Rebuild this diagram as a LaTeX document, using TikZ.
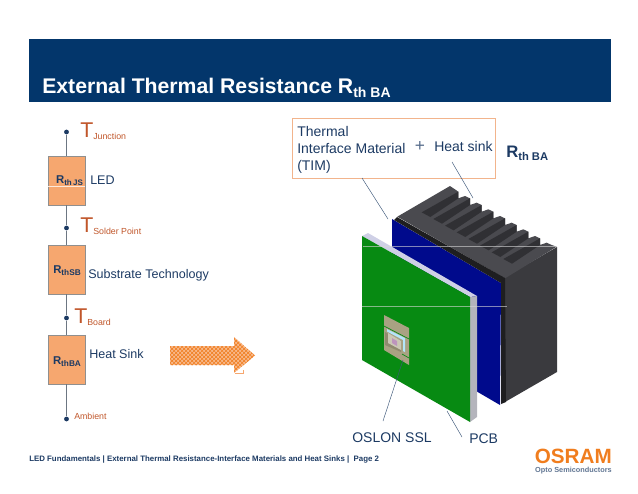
\documentclass[tikz,border=0pt]{standalone}
\usepackage{fontspec}
\setmainfont{Liberation Sans}
\usetikzlibrary{patterns}
\definecolor{bandblue}{HTML}{03366B}
\definecolor{labelblue}{HTML}{1C3A63}
\definecolor{rustred}{HTML}{C0562A}
\definecolor{boxorange}{HTML}{F6A76F}
\definecolor{boxedge}{HTML}{8F8F8F}
\definecolor{timedge}{HTML}{F2B48C}
\definecolor{osramorange}{HTML}{F07D1E}
\definecolor{sinktop}{HTML}{4A4A4F}
\definecolor{sinkdark}{HTML}{303034}
\definecolor{sinkside}{HTML}{3A3A3E}
\definecolor{sinkstrip}{HTML}{1E1E20}
\definecolor{timblue}{HTML}{000A8C}
\definecolor{pcbgreen}{HTML}{078A12}
\definecolor{pcblight}{HTML}{CFD0E6}
\definecolor{pcbgray}{HTML}{B4B4BC}
\definecolor{chiptan}{HTML}{A9A283}
\tikzset{
  rbox/.style={draw=boxedge, fill=boxorange, minimum width=27.75pt, minimum height=36.75pt, inner sep=0pt},
  rlabel/.style={font=\bfseries\fontsize{8.5}{10}\selectfont, text=labelblue, inner sep=0pt},
  dot/.style={circle, fill=labelblue, minimum size=3.6pt, inner sep=0pt},
  tlabel/.style={text=rustred, anchor=base west, inner sep=0pt},
  blab/.style={text=labelblue, anchor=base west, inner sep=0pt, font=\fontsize{9.4}{11}\selectfont},
  timlab/.style={blab, font=\fontsize{10.5}{12}\selectfont},
  pointer/.style={draw=labelblue!85, line width=0.35pt},
  scanline/.style={draw=white!70!gray, line width=0.3pt, opacity=0.6}
}
\newcommand{\tsub}[1]{\fontsize{16}{18}\selectfont T\fontsize{6.6}{8}\selectfont\raisebox{-2pt}{#1}}
\begin{document}
\begin{tikzpicture}[x=0.75pt, y=-0.75pt]
  \useasboundingbox (0,0) rectangle (638,493);

  % title band
  \fill[bandblue] (29,39) rectangle (611,102);
  \node (title) [anchor=base west, inner sep=0pt, text=white, font=\bfseries\fontsize{15.9}{18}\selectfont] at (42,93)
    {External Thermal Resistance R\raisebox{-3pt}{\fontsize{10.5}{12}\selectfont th BA}};

  % thermal chain
  \node (rjs) [rbox] at (66.5,180.5) {};
  \node (rsb) [rbox] at (66.5,269.5) {};
  \node (rba) [rbox] at (66.5,359.5) {};
  \node (tj) [dot] at (66.5,132) {};
  \node (tsp) [dot] at (66.5,228) {};
  \node (tb) [dot] at (66.5,318) {};
  \node (amb) [dot] at (66.5,419) {};
  \draw[boxedge!70!labelblue] (tj) -- (rjs);
  \draw[boxedge!70!labelblue] (rjs) -- (tsp) -- (rsb);
  \draw[boxedge!70!labelblue] (rsb) -- (tb) -- (rba);
  \draw[boxedge!70!labelblue] (rba) -- (amb);
  \draw[white!75!boxorange, line width=0.3pt] (rjs.west |- 0,186.5) -- (rjs.east |- 0,186.5);

  \node (rjslab) [rlabel] at (69.5,181) {R\raisebox{-1.5pt}{\fontsize{6}{7}\selectfont th\,JS}};
  \node (rsblab) [rlabel] at (67,271) {R\raisebox{-1.5pt}{\fontsize{6.2}{7}\selectfont thSB}};
  \node (rbalab) [rlabel] at (67,362) {R\raisebox{-1.5pt}{\fontsize{6.2}{7}\selectfont thBA}};

  \node (tjlab) [tlabel] at (80,137) {\tsub{Junction}};
  \node (tsplab) [tlabel] at (80,232) {\tsub{Solder Point}};
  \node (tblab) [tlabel] at (74,323) {\tsub{Board}};
  \node (amblab) [tlabel, font=\fontsize{6.6}{8}\selectfont] at (74,419) {Ambient};

  \node (led) [blab] at (90,184) {LED};
  \node (subst) [blab] at (88,278) {Substrate Technology};
  \node (sink) [blab] at (89,358) {Heat Sink};

  % big arrow
  \path[fill=boxorange!80!white] (170,346) -- (234,346) -- (234,337) -- (255,355.5) -- (234,373) -- (234,365) -- (170,365) -- cycle;
  \path[pattern=crosshatch, pattern color=osramorange] (170,346) -- (234,346) -- (234,337) -- (255,355.5) -- (234,373) -- (234,365) -- (170,365) -- cycle;
  \draw[boxorange, line width=0.7pt] (235,373.5) -- (243,373.5) -- (243,370);

  % heat sink
  \fill[sinkside] (505,277) -- (557,247) -- (557,372) -- (505,402) -- cycle;
  \begin{scope}[shift={(390,180)}, x=0.25pt, y=-0.25pt]
    \fill[sinktop] (22,110) -- (180,18) -- (205,35)
      \foreach \i in {0,...,7} { -- ++(0,20) -- ++(20,-7) -- ++(15,7) }
      -- (500,200) -- (345,295) -- cycle;
    \foreach \i in {0,...,7}
      \fill[sinkdark] ({95+\i*35},{97+\i*20}) -- ({205+\i*35},{35+\i*20}) -- ({205+\i*35},{55+\i*20}) -- ({121+\i*35},{111+\i*20}) -- cycle;
  \end{scope}

  % TIM plate
  \fill[timblue] (392,219) -- (501,283) -- (500,405) -- (392,342) -- cycle;
  \fill[sinkstrip] (397,217) -- (505,278) -- (506,402) -- (501,404) -- (501,283) -- (394,220) -- cycle;

  % PCB
  \fill[pcblight] (362,236) -- (368,233) -- (477,296) -- (470,297) -- cycle;
  \fill[pcbgray] (470,297) -- (477,296) -- (477,417) -- (470,422) -- cycle;
  \fill[pcbgreen] (362,236) -- (470,297) -- (470,422) -- (362,360) -- cycle;

  % LED package
  \fill[chiptan] (384,315) -- (409,328) -- (409,365) -- (384,350) -- cycle;
  \draw[pcbgreen, line width=0.5pt] (384,326) -- (409,339);
  \draw[pcbgreen, line width=0.5pt] (402,354) -- (409,358);
  \fill[black!15!chiptan] (385,332) -- (401,341) -- (401,352) -- (385,345) -- cycle;
  \fill[white!70!cyan] (387,329) -- (405,338) -- (405,352) -- (403,351) -- (403,340) -- (387,331.5) -- cycle;
  \fill[white!40!chiptan] (388,333) -- (401,341) -- (401,350) -- (388,343) -- cycle;
  \fill[violet!40!white!80!gray] (392,338) -- (397,341) -- (397,346) -- (392,343) -- cycle;

  % stray scan lines of the slide
  \draw[scanline] (363,246) -- (557,246);
  \draw[scanline] (362,306) -- (507,306);

  % callout
  \node (timbox) [draw=timedge, minimum width=152.25pt, minimum height=45pt, inner sep=0pt] at (393.5,148) {};
  \node (thermal) [timlab] at (297,136) {Thermal};
  \node (iface) [timlab] at (297,153) {Interface Material};
  \node (timpar) [timlab] at (297,170) {(TIM)};
  \node (plus) [text=labelblue!75, anchor=base, inner sep=0pt, font=\fontsize{13}{14}\selectfont] at (420,151) {+};
  \node (hslab) [timlab] at (434,151) {Heat sink};
  \node (rthba) [anchor=base west, inner sep=0pt, text=labelblue, font=\bfseries\fontsize{12.5}{15}\selectfont] at (506,157)
    {R\raisebox{-2.5pt}{\fontsize{8.4}{10}\selectfont th BA}};
  \node (oslon) [timlab] at (352,442) {OSLON SSL};
  \node (pcb) [timlab] at (469,443) {PCB};

  \coordinate (timstart) at (362,178);
  \coordinate (timend) at (388,219);
  \coordinate (hsstart) at (452,162);
  \coordinate (hsend) at (473,198);
  \coordinate (oslonstart) at (403,360);
  \coordinate (oslonend) at (383,421);
  \coordinate (pcbstart) at (447,411);
  \coordinate (pcbend) at (462,437);
  \draw[pointer] (timstart) -- (timend);
  \draw[pointer] (hsstart) -- (hsend);
  \draw[pointer] (oslonstart) -- (oslonend);
  \draw[pointer] (pcbstart) -- (pcbend);

  % footer
  \node (foot) [anchor=base west, inner sep=0pt, text=labelblue, font=\bfseries\fontsize{5.9}{8}\selectfont] at (29,461)
    {LED Fundamentals | External Thermal Resistance-Interface Materials and Heat Sinks | \ Page 2};
  \node (osram) [anchor=base east, inner sep=0pt, text=osramorange, font=\bfseries\fontsize{15.5}{20}\selectfont] at (612,463) {OSRAM};
  \node (opto) [anchor=base east, inner sep=0pt, text=labelblue!70, font=\bfseries\fontsize{5.5}{8}\selectfont] at (612,472) {Opto Semiconductors};
\end{tikzpicture}
\end{document}
